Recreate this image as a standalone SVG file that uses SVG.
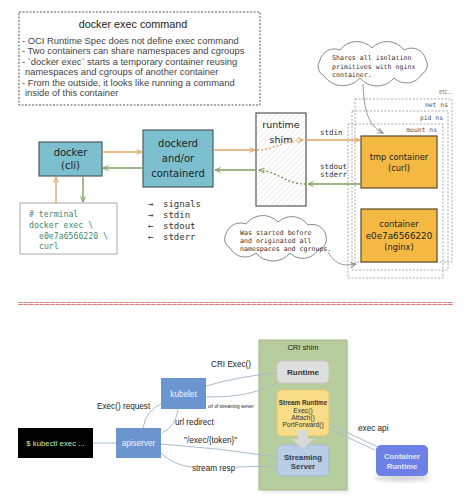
<svg xmlns="http://www.w3.org/2000/svg" width="474" height="496" viewBox="0 0 474 496">
<style>
.sans{font-family:"Liberation Sans",Arial,sans-serif}
.hand{font-family:"DejaVu Sans","Noto Sans",sans-serif;fill:#222;text-anchor:middle}
.mono{font-family:"DejaVu Sans Mono","Liberation Mono",monospace}
.box{fill:#7cc0cf;stroke:#4d5a5e;stroke-width:1.2}
.ctr{fill:#f4b942;stroke:#5a4a2a;stroke-width:1.2}
.ns{fill:none;stroke:#a8a8a8;stroke-width:1;stroke-dasharray:2 1.6}
.nsl{font-size:6.4px;fill:#555;text-anchor:end}
.cloud{fill:#fff;stroke:#8a8a8a;stroke-width:1}
.ctext{font-size:6.6px;fill:#333}
.or{fill:none;stroke:#e6a466;stroke-width:1.4}
.gr{fill:none;stroke:#7f9e5c;stroke-width:1.4}
.tail{fill:none;stroke:#8a8a8a;stroke-width:0.9}
.k8{fill:#6a95cf}
.k8t{font-size:8.2px;fill:#eef3ff;text-anchor:middle}
.cl{fill:none;stroke:#a9bccb;stroke-width:1}
.lbl{font-size:8.2px;fill:#222}
.btxt{font-weight:bold;text-anchor:middle}
</style>
<defs>
<marker id="ao" viewBox="0 0 10 10" refX="9" refY="5" markerWidth="7" markerHeight="7" orient="auto" markerUnits="userSpaceOnUse"><path d="M1,1.5 L9,5 L1,8.5" fill="none" stroke="#e6a466" stroke-width="1.4"/></marker>
<marker id="ag" viewBox="0 0 10 10" refX="9" refY="5" markerWidth="7" markerHeight="7" orient="auto" markerUnits="userSpaceOnUse"><path d="M1,1.5 L9,5 L1,8.5" fill="none" stroke="#7f9e5c" stroke-width="1.4"/></marker>
<marker id="ak" viewBox="0 0 10 10" refX="9" refY="5" markerWidth="7" markerHeight="7" orient="auto" markerUnits="userSpaceOnUse"><path d="M1,1.5 L9,5 L1,8.5" fill="none" stroke="#7a7a8a" stroke-width="1.3"/></marker>
<pattern id="hatch" width="4" height="4" patternUnits="userSpaceOnUse" patternTransform="rotate(45)"><line x1="0" y1="0" x2="0" y2="4" stroke="#dcdcdc" stroke-width="1"/></pattern>
<filter id="sh" x="-20%" y="-20%" width="140%" height="160%"><feGaussianBlur stdDeviation="2"/></filter>
</defs>

<!-- top info box -->
<g id="info">
<rect x="19" y="12" width="241" height="93" fill="none" stroke="#555" stroke-width="1" stroke-dasharray="2 1.5"/>
<text class="sans" x="133" y="28" font-size="10.8" fill="#222" text-anchor="middle">docker exec command</text>
<g class="sans" font-size="9.4" fill="#444">
<text x="22" y="43.5">- OCI Runtime Spec does not define exec command</text>
<text x="22" y="54">- Two containers can share namespaces and cgroups</text>
<text x="22" y="64.5">- `docker exec` starts a temporary container reusing</text>
<text x="25" y="75">namespaces and cgroups of another container</text>
<text x="22" y="85.5">- From the outside, it looks like running a command</text>
<text x="25" y="96">inside of this container</text>
</g>
</g>

<!-- namespaces -->
<g id="namespaces">
<text class="sans" x="453" y="94" font-size="6.5" fill="#888" text-anchor="end">etc...</text>
<rect class="ns" x="355" y="99" width="97" height="163"/>
<text class="mono nsl" x="448" y="107">net ns</text>
<rect class="ns" x="352" y="111" width="96" height="159"/>
<text class="mono nsl" x="443" y="119.5">pid ns</text>
<rect class="ns" x="348" y="124" width="95" height="154"/>
<text class="mono nsl" x="437" y="132">mount ns</text>
</g>

<g id="docker-cli">
<rect class="box" x="39" y="142" width="63" height="34"/>
<text class="hand" x="70.5" y="156" font-size="10">docker</text>
<text class="hand" x="70.5" y="169" font-size="10">(cli)</text>
</g>

<g id="dockerd">
<rect class="box" x="143" y="130" width="70" height="57"/>
<text class="hand" x="178" y="147" font-size="10">dockerd</text>
<text class="hand" x="178" y="162" font-size="10">and/or</text>
<text class="hand" x="178" y="176.5" font-size="10">containerd</text>
</g>

<g id="runtime-shim">
<rect x="256" y="113" width="50" height="93" fill="#fff" stroke="#555" stroke-width="1.2"/>
<rect x="257" y="114" width="48" height="91" fill="url(#hatch)"/>
<text class="hand" x="281" y="127.5" font-size="9.5">runtime</text>
<text class="hand" x="281" y="142.5" font-size="9.5">shim</text>
</g>

<g id="tmp-container">
<rect class="ctr" x="361" y="136" width="76" height="52"/>
<text class="hand" x="399" y="160" font-size="8.3">tmp container</text>
<text class="hand" x="399" y="171" font-size="8.3">(curl)</text>
</g>

<g id="nginx-container">
<rect class="ctr" x="361" y="209" width="76" height="53"/>
<text class="hand" x="399" y="227" font-size="8.3">container</text>
<text class="hand" x="399" y="238.5" font-size="8.8">e0e7a6566220</text>
<text class="hand" x="399" y="249.5" font-size="8.3">(nginx)</text>
</g>

<g id="terminal">
<rect x="20" y="203" width="97" height="51" fill="#fff" stroke="#aaa" stroke-width="1"/>
<g class="mono" font-size="8.2" fill="#3d8a70">
<text x="29" y="217"># terminal</text>
<text x="29" y="228">docker exec \</text>
<text x="39" y="239">e0e7a6566220 \</text>
<text x="39" y="249">curl</text>
</g>
</g>

<g id="legend" class="mono" font-size="9" fill="#333">
<text x="148" y="207">→<tspan x="163">signals</tspan></text>
<text x="148" y="218">→<tspan x="163">stdin</tspan></text>
<text x="148" y="229">←<tspan x="163">stdout</tspan></text>
<text x="148" y="240">←<tspan x="163">stderr</tspan></text>
</g>

<g id="cloud-shares">
<path class="cloud" d="M324,76 A11,11 0 0 1 320,60 A15,15 0 0 1 340,50 A21,21 0 0 1 372,48 A21,21 0 0 1 404,50 A15,15 0 0 1 426,60 A10,10 0 0 1 422,74 A18,18 0 0 1 394,78 A22,22 0 0 1 360,78 A23,23 0 0 1 324,76 Z"/>
<g class="mono ctext">
<text x="332" y="60">Shares all isolation</text>
<text x="332" y="68.5">primitives with nginx</text>
<text x="332" y="77">container.</text>
</g>
</g>

<g id="cloud-started">
<path class="cloud" d="M230,248 A10,10 0 0 1 226,234 A15,15 0 0 1 246,224 A21,21 0 0 1 278,222 A20,20 0 0 1 308,225 A14,14 0 0 1 326,236 A11,11 0 0 1 318,250 A18,18 0 0 1 290,253 A22,22 0 0 1 256,253 A17,17 0 0 1 230,248 Z"/>
<g class="mono ctext">
<text x="240" y="234.5">Was started before</text>
<text x="240" y="242.5">and originated all</text>
<text x="240" y="250.5">namespaces and cgroups.</text>
</g>
</g>

<g id="connectors">
<path class="or" d="M102,152 L142,152" marker-end="url(#ao)"/>
<path class="gr" d="M143,168 L103,168" marker-end="url(#ag)"/>
<path class="or" d="M56,203 L56,177" marker-end="url(#ao)"/>
<path class="gr" d="M83,176 L83,202" marker-end="url(#ag)"/>
<path class="or" d="M213,150 L255,150" marker-end="url(#ao)"/>
<path class="gr" d="M256,170 L215,170" marker-end="url(#ag)"/>
<path class="or" d="M257,150 C275,150 280,141 303,140" stroke-dasharray="2 2" stroke-width="1.1" marker-end="url(#ao)"/>
<path class="gr" d="M306,184 C285,184 280,172 259,170" stroke-dasharray="2 2" stroke-width="1.1" marker-end="url(#ag)"/>
<path class="or" d="M306,140 L360,140" marker-end="url(#ao)"/>
<path class="gr" d="M361,184 L308,184" marker-end="url(#ag)"/>
<path class="tail" d="M363,84 C364,110 368,126 383,133" marker-end="url(#ak)"/>
<path class="tail" d="M328,252 C336,266 345,266 356,264" marker-end="url(#ak)"/>
<g class="mono" font-size="7.5" fill="#333">
<text x="320" y="134.5">stdin</text>
<text x="320" y="168.5">stdout</text>
<text x="320" y="177">stderr</text>
</g>
</g>

<g id="separator">
<text class="mono" x="18" y="306" font-size="8.8" fill="#e05858" textLength="435" lengthAdjust="spacingAndGlyphs">==================================================================================</text>
</g>

<!-- bottom diagram -->
<g id="kubectl">
<rect x="18" y="428" width="75" height="30" fill="#000"/>
<text class="sans" x="55.5" y="445.8" font-size="7.8" fill="#cfe8b8" text-anchor="middle">$ kubectl exec ...</text>
</g>
<g id="apiserver">
<rect class="k8" x="116" y="428" width="45" height="30"/>
<text class="sans k8t" x="138.5" y="446">apiserver</text>
</g>
<g id="kubelet">
<rect class="k8" x="161" y="378" width="45" height="31"/>
<text class="sans k8t" x="183.5" y="396.5">kubelet</text>
</g>
<g id="cri-shim">
<rect x="261" y="342" width="88" height="150" fill="#d8d8d8" filter="url(#sh)" opacity="0.7"/>
<rect x="259" y="340" width="88" height="150" fill="#b7cd9d" stroke="#a3b98b" stroke-width="1"/>
<text class="sans" x="303" y="349.5" font-size="7.6" fill="#222" text-anchor="middle">CRI shim</text>
</g>
<g id="runtime">
<rect x="277" y="361" width="52" height="22" rx="5" fill="#dedede" stroke="#c9c9c9"/>
<text class="sans btxt" x="303" y="375" font-size="8" fill="#333">Runtime</text>
</g>
<g id="stream-runtime">
<rect x="277" y="390" width="52" height="46" rx="5" fill="#f8dc88" stroke="#e6c66e"/>
<text class="sans btxt" x="303" y="405.3" font-size="6.3" fill="#333">Stream Runtime</text>
<g class="sans" font-size="6.7" fill="#333" text-anchor="middle">
<text x="303" y="412.6">Exec()</text>
<text x="303" y="419.8">Attach()</text>
<text x="303" y="426.8">PortForward()</text>
</g>
</g>
<g id="streaming-server">
<rect x="277" y="445" width="52" height="31" rx="5" fill="#b8cce4" stroke="#a5bcd8"/>
<text class="sans btxt" x="303" y="460" font-size="7.8" fill="#2f3e50">Streaming</text>
<text class="sans btxt" x="303" y="469.2" font-size="7.8" fill="#2f3e50">Server</text>
</g>
<g id="block-arrow">
<path d="M298,430 L308,430 L308,439 L314,439 L303,449 L292,439 L298,439 Z" fill="#d9d9d9"/>
</g>
<g id="container-runtime">
<ellipse cx="402" cy="478" rx="28" ry="3" fill="#cfcfcf" filter="url(#sh)"/>
<rect x="376" y="445" width="52" height="31" rx="5" fill="#6c80e6"/>
<text class="sans btxt" x="402" y="459.2" font-size="7.7" fill="#e3e9ff">Container</text>
<text class="sans btxt" x="402" y="468.6" font-size="7.7" fill="#e3e9ff">Runtime</text>
</g>

<g id="k8s-connectors">
<path class="cl" d="M93,443 L116,443"/>
<path class="cl" d="M143,428 Q146,410 161,404"/>
<path class="cl" d="M178,409 Q176,426 162,433"/>
<path class="cl" d="M206,386 Q240,376 277,373"/>
<path class="cl" d="M206,397 Q250,398 277,383"/>
<path class="cl" d="M161,444 Q220,448 277,457"/>
<path class="cl" d="M161,453 Q175,466 192,467 M236,467 L277,466"/>
<path class="cl" d="M329,424 L378,447 M329,429 L375,450"/>
<g class="sans lbl">
<text x="211" y="367">CRI Exec()</text>
<text x="97" y="409">Exec() request</text>
<text x="175" y="425">url redirect</text>
<text x="184" y="442.5">"/exec/{token}"</text>
<text x="192" y="471">stream resp</text>
<text x="358" y="431">exec api</text>
<text x="208" y="407.6" font-size="4.6">url of streaming server</text>
</g>
</g>
</svg>
